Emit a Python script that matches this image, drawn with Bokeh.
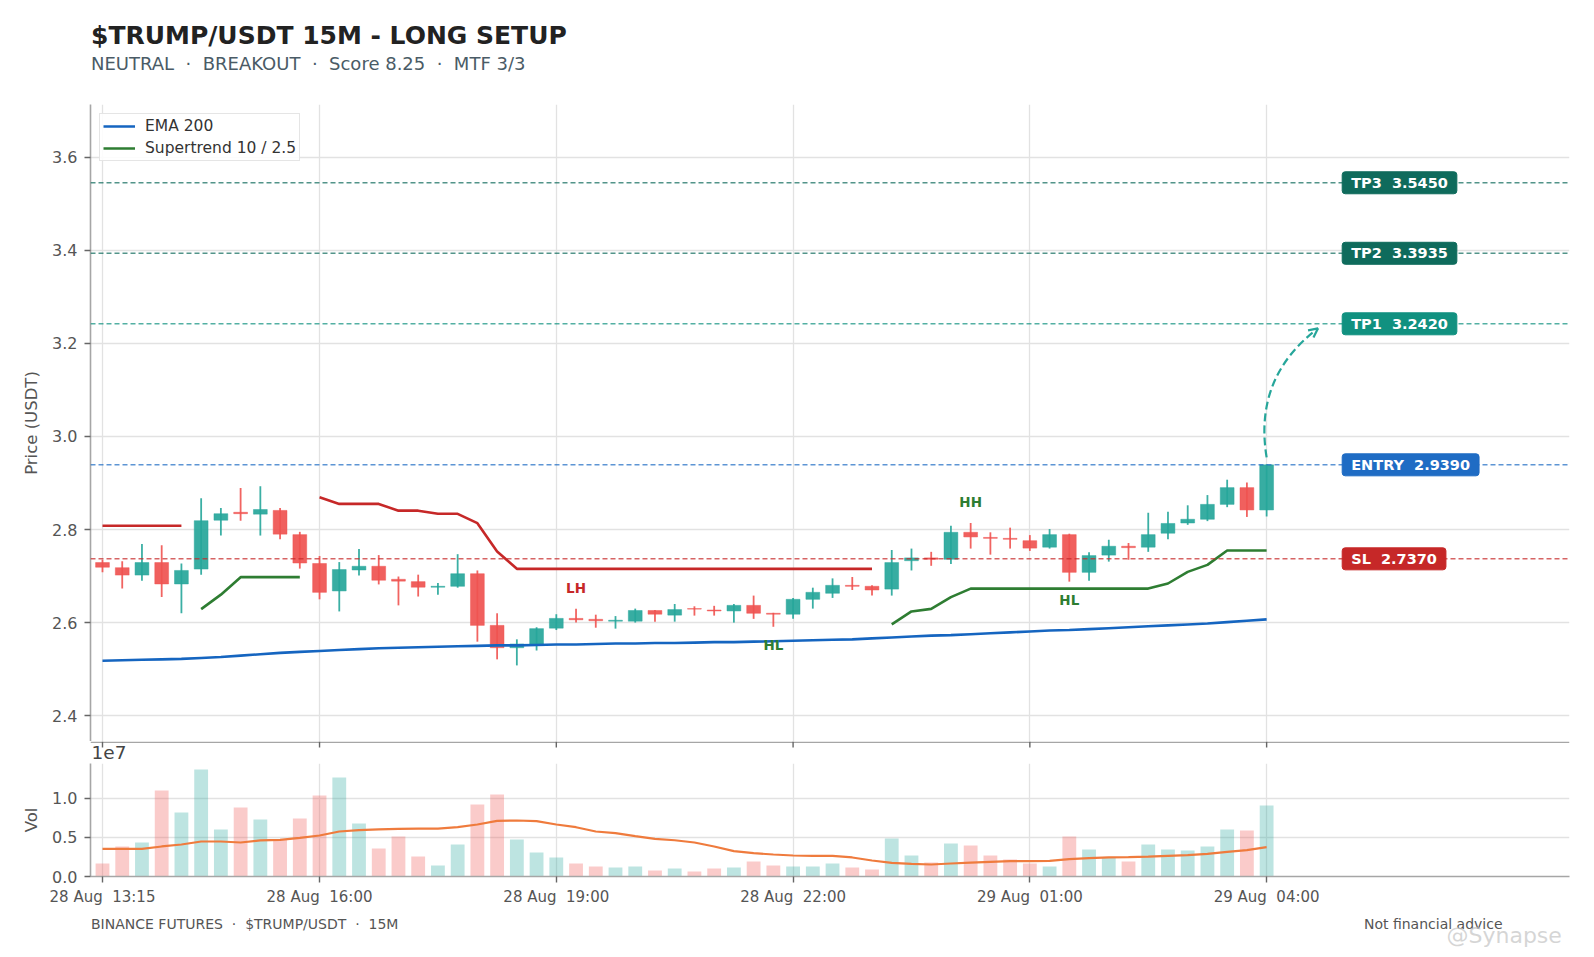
import numpy as np
from bokeh.plotting import figure
from bokeh.models import (ColumnDataSource, FixedTicker, Span, Label, Legend, LegendItem, Grid,
                          Arrow, OpenHead, PrintfTickFormatter, CustomJSTickFormatter, Range1d)
from bokeh.layouts import column
from bokeh.embed import file_html
from bokeh.resources import INLINE

nan = float("nan")
NB = "\u00a0"

# ---------------- data ----------------
tick_idx = [0, 11, 23, 35, 47, 59]
tick_labels = ["28 Aug  13:15", "28 Aug  16:00", "28 Aug  19:00",
               "28 Aug  22:00", "29 Aug  01:00", "29 Aug  04:00"]
price_ticks = [2.4, 2.6, 2.8, 3.0, 3.2, 3.4, 3.6]
vol_ticks = [0, 5e6, 1e7]

opens = [2.729, 2.718, 2.702, 2.729, 2.683, 2.715, 2.820, 2.837, 2.833, 2.841,
         2.789, 2.727, 2.668, 2.713, 2.721, 2.693, 2.688, 2.676, 2.678, 2.705,
         2.594, 2.546, 2.554, 2.588, 2.609, 2.607, 2.603, 2.603, 2.626, 2.616,
         2.630, 2.627, 2.625, 2.637, 2.620, 2.618, 2.650, 2.663, 2.680, 2.678,
         2.672, 2.733, 2.739, 2.736, 2.794, 2.783, 2.781, 2.776, 2.762, 2.789,
         2.708, 2.745, 2.764, 2.762, 2.792, 2.814, 2.822, 2.854, 2.890, 2.842]
highs = [2.735, 2.732, 2.769, 2.766, 2.727, 2.867, 2.846, 2.889, 2.893, 2.846,
         2.795, 2.743, 2.730, 2.758, 2.745, 2.699, 2.703, 2.685, 2.747, 2.712,
         2.620, 2.564, 2.590, 2.618, 2.630, 2.617, 2.614, 2.630, 2.627, 2.640,
         2.635, 2.636, 2.640, 2.658, 2.621, 2.653, 2.675, 2.695, 2.698, 2.680,
         2.756, 2.759, 2.752, 2.808, 2.814, 2.794, 2.804, 2.788, 2.801, 2.791,
         2.751, 2.778, 2.771, 2.836, 2.838, 2.852, 2.874, 2.907, 2.901, 2.940]
lows = [2.708, 2.673, 2.690, 2.655, 2.620, 2.703, 2.787, 2.819, 2.787, 2.779,
        2.716, 2.650, 2.624, 2.701, 2.682, 2.637, 2.656, 2.660, 2.675, 2.559,
        2.521, 2.508, 2.540, 2.584, 2.600, 2.589, 2.587, 2.600, 2.602, 2.602,
        2.615, 2.615, 2.600, 2.608, 2.591, 2.608, 2.630, 2.653, 2.670, 2.658,
        2.658, 2.712, 2.722, 2.726, 2.759, 2.746, 2.759, 2.754, 2.759, 2.688,
        2.690, 2.731, 2.735, 2.752, 2.779, 2.810, 2.818, 2.848, 2.827, 2.828]
closes = [2.719, 2.702, 2.729, 2.683, 2.712, 2.819, 2.834, 2.834, 2.843, 2.790,
          2.728, 2.665, 2.714, 2.721, 2.691, 2.689, 2.676, 2.678, 2.705, 2.594,
          2.546, 2.554, 2.587, 2.609, 2.606, 2.604, 2.605, 2.626, 2.618, 2.628,
          2.629, 2.625, 2.637, 2.620, 2.618, 2.650, 2.665, 2.680, 2.678, 2.670,
          2.729, 2.739, 2.736, 2.794, 2.784, 2.781, 2.779, 2.760, 2.789, 2.708,
          2.744, 2.764, 2.761, 2.789, 2.813, 2.822, 2.854, 2.890, 2.842, 2.939]
ema200 = [2.518, 2.519, 2.520, 2.521, 2.522, 2.524, 2.526, 2.529, 2.532, 2.535,
          2.537, 2.539, 2.541, 2.543, 2.545, 2.546, 2.547, 2.548, 2.549, 2.550,
          2.551, 2.551, 2.552, 2.553, 2.553, 2.554, 2.555, 2.555, 2.556, 2.556,
          2.557, 2.558, 2.558, 2.559, 2.560, 2.561, 2.562, 2.563, 2.564, 2.566,
          2.568, 2.570, 2.572, 2.573, 2.575, 2.577, 2.579, 2.581, 2.583, 2.584,
          2.586, 2.588, 2.590, 2.592, 2.594, 2.596, 2.598, 2.601, 2.604, 2.607]
st_bear = ([2.808] * 5 + [nan] * 6 +
           [2.8695, 2.855, 2.855, 2.855, 2.8405, 2.8405, 2.8337, 2.8337, 2.8136, 2.7527] +
           [2.7155] * 19 + [nan] * 20)
st_bull = ([nan] * 5 + [2.629, 2.660, 2.6976, 2.6976, 2.6976, 2.6976] + [nan] * 29 +
           [2.596, 2.624, 2.6295, 2.6546] + [2.673] * 10 +
           [2.684, 2.709, 2.724, 2.755, 2.755, 2.755])
volume_m = [1.67, 3.85, 4.36, 11.03, 8.21, 13.72, 6.03, 8.85, 7.31, 4.80,
            7.44, 10.38, 12.69, 6.79, 3.59, 5.13, 2.56, 1.41, 4.10, 9.23,
            10.51, 4.74, 3.08, 2.44, 1.67, 1.28, 1.15, 1.28, 0.77, 1.03,
            0.64, 1.03, 1.15, 1.92, 1.41, 1.28, 1.28, 1.67, 1.15, 0.90,
            4.87, 2.69, 1.79, 4.23, 3.97, 2.69, 2.18, 1.67, 1.28, 5.13,
            3.46, 2.44, 1.92, 4.10, 3.46, 3.33, 3.85, 6.03, 5.90, 9.10]
vol_ma_m = [3.55, 3.55, 3.55, 3.85, 4.10, 4.49, 4.49, 4.36, 4.62, 4.70,
            4.96, 5.26, 5.77, 5.94, 6.03, 6.11, 6.15, 6.15, 6.32, 6.67,
            7.14, 7.18, 7.09, 6.67, 6.32, 5.77, 5.56, 5.17, 4.83, 4.65,
            4.36, 3.85, 3.25, 2.99, 2.82, 2.69, 2.65, 2.65, 2.44, 2.05,
            1.75, 1.62, 1.54, 1.67, 1.79, 1.88, 1.97, 1.97, 2.01, 2.22,
            2.35, 2.44, 2.48, 2.56, 2.65, 2.74, 2.91, 3.16, 3.38, 3.76]

pivot_idx = [24, 34, 44, 49]
pivot_kind = ["LH", "HL", "HH", "HL"]

entry = 2.9390
stop = 2.7370
tp1, tp2, tp3 = 3.2420, 3.3935, 3.5450

title_text = "$TRUMP/USDT 15M - LONG SETUP"
subtitle_text = "NEUTRAL  ·  BREAKOUT  ·  Score 8.25  ·  MTF 3/3"
footer_left = "BINANCE FUTURES  ·  $TRUMP/USDT  ·  15M"
footer_right = "Not financial advice"
watermark = "@Synapse"

# ---------------- styling ----------------
FONT = "DejaVu Sans"
UP, DN = "#26a69a", "#ef5350"
GRID = "#e2e2e2"
SPINE = "#a6a6a6"
TICKC = "#666666"
TXT = "#555555"
W = 1588
BL, BR = 90, 19          # left / right borders -> frame x 90..1569

def nb(s):
    return s.replace("  ", NB + " ")

n = len(opens)
xs = list(range(n))
o, h, l, c = map(np.array, (opens, highs, lows, closes))
cols = [UP if cc >= oo else DN for oo, cc in zip(opens, closes)]
src = ColumnDataSource(dict(x=xs, high=h, low=l, top=np.maximum(o, c), bottom=np.minimum(o, c),
                            color=cols, vol=np.array(volume_m) * 1e6))

x_range = Range1d(-0.608, 74.35)
PX = (W - BL - BR) / (x_range.end - x_range.start)   # pixels per candle


def base(p):
    p.outline_line_color = None
    p.background_fill_color = "white"
    p.border_fill_color = "white"


def style_y(ax):
    ax.axis_line_color = SPINE
    ax.axis_line_width = 1.6
    ax.major_tick_line_color = TICKC
    ax.major_tick_line_width = 1.4
    ax.major_tick_out = 6
    ax.major_tick_in = 0
    ax.minor_tick_line_color = None
    ax.major_label_text_font = FONT
    ax.major_label_text_color = TXT
    ax.major_label_text_font_size = "16px"
    ax.major_label_standoff = 7
    ax.axis_label_text_font = FONT
    ax.axis_label_text_color = TXT
    ax.axis_label_text_font_style = "normal"
    ax.axis_label_text_font_size = "16.5px"
    ax.axis_label_standoff = 8


def text_strip(height):
    # page-pixel coordinates: x = page x, y = pixels from strip top
    p = figure(width=W, height=height, x_range=Range1d(BL, W - BR), y_range=Range1d(height, 0),
               x_axis_type=None, y_axis_type=None, output_backend="svg", toolbar_location=None,
               min_border_left=BL, min_border_right=BR, min_border_top=0, min_border_bottom=0)
    base(p)
    p.grid.visible = False
    return p

# ---------------- header ----------------
header = text_strip(104)
header.add_layout(Label(x=90.5, y=35.3, text=title_text, text_font=FONT, text_font_style="bold",
                        text_font_size="25px", text_color="#222222", text_baseline="middle"))
header.add_layout(Label(x=90.5, y=62.8, text=nb(subtitle_text), text_font=FONT,
                        text_font_size="18px", text_color="#4a5b66", text_baseline="middle"))

# ---------------- main price panel ----------------
main = figure(width=W, height=637, x_range=x_range, y_range=Range1d(2.3445, 3.7132),
              x_axis_type=None, output_backend="svg", toolbar_location=None,
              min_border_left=BL, min_border_right=BR, min_border_top=0, min_border_bottom=0)
base(main)
style_y(main.yaxis[0])
main.yaxis.ticker = FixedTicker(ticks=price_ticks)
main.yaxis.formatter = PrintfTickFormatter(format="%.1f")
main.yaxis.axis_label = "Price (USDT)"
main.ygrid.grid_line_color = GRID
main.ygrid.grid_line_width = 1.3
main.add_layout(Grid(dimension=0, ticker=FixedTicker(ticks=tick_idx),
                     grid_line_color=GRID, grid_line_width=1.3))

main.segment(x0="x", y0="low", x1="x", y1="high", source=src, line_color="color",
             line_width=1.8, line_alpha=0.9)
main.vbar(x="x", top="top", bottom="bottom", width=0.7, source=src, fill_color="color",
          line_color="color", fill_alpha=0.92, line_alpha=0.92, line_width=0.5)

ema_r = main.line(xs, ema200, line_color="#1565c0", line_width=2.6)
bear_r = main.line(xs, st_bear, line_color="#c62828", line_width=2.6)
bull_r = main.line(xs, st_bull, line_color="#2e7d32", line_width=2.6)

levels = [(tp3, "TP3", "#0f6b5c"), (tp2, "TP2", "#0f6b5c"), (tp1, "TP1", "#119180"),
          (entry, "ENTRY", "#1f6cc4"), (stop, "SL", "#c62828")]
for lvl, name, colr in levels:
    main.add_layout(Span(location=lvl, dimension="width", line_color=colr, line_alpha=0.72,
                         line_dash="5 3", line_width=1.5))
tag_x = 62.83
for lvl, name, colr in levels:
    main.add_layout(Label(x=tag_x, y=lvl, text=f"{name}{NB} {lvl:.4f}", text_color="white",
                          text_font=FONT, text_font_style="bold", text_font_size="14.5px",
                          text_align="left", text_baseline="middle",
                          background_fill_color=colr, background_fill_alpha=1.0,
                          border_line_color=colr, border_line_alpha=1.0,
                          padding=dict(left=9, right=9, top=3, bottom=3), border_radius=3))

for i, kind in zip(pivot_idx, pivot_kind):
    is_high = kind in ("HH", "LH")
    yv = highs[i] + 0.045 if is_high else lows[i] - 0.039
    colr = "#c62828" if kind in ("LH", "LL") else "#2e7d32"
    main.add_layout(Label(x=i, y=yv, text=kind, text_color=colr, text_font=FONT,
                          text_font_style="bold", text_font_size="13.5px",
                          text_align="center", text_baseline="middle"))

last = n - 1
ax0, ay0 = last, entry + 0.016
ax1, ay1 = last + 2.6, tp1 - 0.01
acx, acy = last - 0.67, 3.127
main.quadratic(x0=[ax0], y0=[ay0], x1=[ax1], y1=[ay1], cx=[acx], cy=[acy],
               line_color="#26a69a", line_width=2.2, line_dash="8 4")
main.add_layout(Arrow(end=OpenHead(line_color="#26a69a", line_width=2.2, size=9),
                      x_start=ax1 - 0.12 * (ax1 - acx), y_start=ay1 - 0.12 * (ay1 - acy),
                      x_end=ax1, y_end=ay1, line_alpha=0))

legend = Legend(items=[LegendItem(label="EMA 200", renderers=[ema_r]),
                       LegendItem(label="Supertrend 10 / 2.5", renderers=[bull_r])],
                location="top_left", margin=9, padding=3, spacing=4,
                label_height=18, glyph_height=18, glyph_width=32, label_standoff=10,
                label_text_font=FONT, label_text_font_size="15.5px", label_text_color="#333333",
                border_line_color="#cccccc", border_line_width=1.2, background_fill_alpha=0.9)
main.add_layout(legend)

# ---------------- strip: main x-spine, ticks, offset text ----------------
strip = figure(width=W, height=22, x_range=x_range, y_range=Range1d(22, 0),
               x_axis_type=None, y_axis_type=None, output_backend="svg", toolbar_location=None,
               min_border_left=BL, min_border_right=BR, min_border_top=0, min_border_bottom=0)
base(strip)
strip.grid.visible = False
strip.line([x_range.start, x_range.end], [0.8, 0.8], line_color=SPINE, line_width=1.6)
strip.segment(x0=tick_idx, y0=[0] * len(tick_idx), x1=tick_idx, y1=[6] * len(tick_idx),
              line_color=TICKC, line_width=1.4)
strip.add_layout(Label(x=x_range.start + 1.0 / PX, y=10.8, text="1e7", text_font=FONT,
                       text_font_size="18.5px", text_color="#444444", text_baseline="middle"))

# ---------------- volume panel ----------------
vol = figure(width=W, height=145, x_range=x_range, y_range=Range1d(0, 1.4487e7),
             output_backend="svg", toolbar_location=None,
             min_border_left=BL, min_border_right=BR, min_border_top=0, min_border_bottom=32)
base(vol)
style_y(vol.yaxis[0])
xa = vol.xaxis[0]
xa.axis_line_color = SPINE
xa.axis_line_width = 1.6
xa.major_tick_line_color = TICKC
xa.major_tick_line_width = 1.4
xa.major_tick_out = 6
xa.major_tick_in = 0
xa.minor_tick_line_color = None
xa.major_label_text_font = FONT
xa.major_label_text_color = TXT
xa.major_label_text_font_size = "15px"
xa.major_label_standoff = 5
xa.ticker = FixedTicker(ticks=tick_idx)
xa.major_label_overrides = {t: nb(s) for t, s in zip(tick_idx, tick_labels)}
vol.yaxis.ticker = FixedTicker(ticks=vol_ticks)
vol.yaxis.formatter = CustomJSTickFormatter(code="return (tick/1e7).toFixed(1)")
vol.yaxis.axis_label = "Vol"
vol.grid.grid_line_color = GRID
vol.grid.grid_line_width = 1.3

vol.vbar(x="x", top="vol", bottom=0, width=0.7, source=src, fill_color="color",
         line_color=None, fill_alpha=0.3)
vol.line(xs, np.array(vol_ma_m) * 1e6, line_color="#ef7b3d", line_width=2.2)

# ---------------- footer ----------------
footer = text_strip(45)
footer.add_layout(Label(x=90.5, y=15, text=nb(footer_left), text_font=FONT,
                        text_font_size="14px", text_color=TXT, text_baseline="middle"))
footer.add_layout(Label(x=1502, y=15, text=footer_right, text_font=FONT,
                        text_font_size="14px", text_color=TXT, text_align="right",
                        text_baseline="middle"))
footer.add_layout(Label(x=1446, y=27, text=watermark, text_font=FONT, text_font_size="22px",
                        text_color="#c8c8c8", text_alpha=0.75, text_baseline="middle"))

layout = column(header, main, strip, vol, footer)
open("out.html", "w").write(file_html(layout, INLINE))
